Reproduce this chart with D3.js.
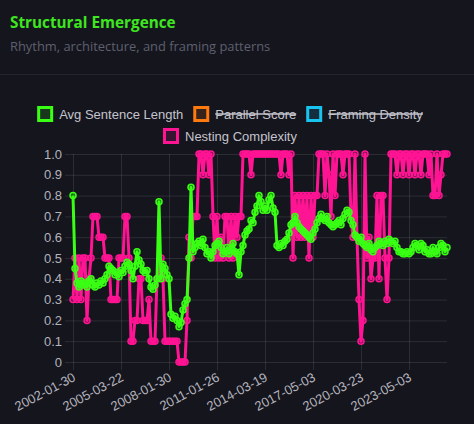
<!DOCTYPE html>
<html><head><meta charset="utf-8">
<script src="https://cdn.jsdelivr.net/npm/d3@7/dist/d3.min.js"></script>
<style>
html,body{margin:0;padding:0;background:#15151e;}
svg{display:block;}
</style></head>
<body>
<svg id="chart" width="474" height="424"></svg>
<script>
const title = "Structural Emergence";
const subtitle = "Rhythm, architecture, and framing patterns";
const tickLabels = ["2002-01-30","2005-03-22","2008-01-30","2011-01-26","2014-03-19","2017-05-03","2020-03-23","2023-05-03"];
const labelStep = 24;
const yTicks = [0,0.1,0.2,0.3,0.4,0.5,0.6,0.7,0.8,0.9,1.0];
const seriesNames = ["Avg Sentence Length","Parallel Score","Framing Density","Nesting Complexity"];
const seriesColors = ["#39ff14","#ff7a0e","#19c3f0","#ff1493"];
const seriesHidden = [false,true,true,false];
const avgSentenceLength = [
0.80,0.45,0.38,0.36,0.39,0.37,0.38,0.36,0.39,0.40,0.37,0.36,0.38,0.37,0.39,0.38,0.40,0.42,0.46,0.45,
0.44,0.42,0.43,0.41,0.44,0.43,0.46,0.48,0.47,0.44,0.40,0.46,0.53,0.49,0.47,0.44,0.43,0.44,0.40,0.36,
0.35,0.37,0.40,0.77,0.40,0.47,0.45,0.42,0.40,0.23,0.21,0.22,0.20,0.17,0.19,0.25,0.28,0.30,0.50,0.84,
0.53,0.55,0.57,0.58,0.56,0.59,0.55,0.52,0.53,0.50,0.53,0.56,0.57,0.58,0.55,0.52,0.53,0.55,0.52,0.54,
0.57,0.53,0.52,0.42,0.53,0.56,0.61,0.63,0.64,0.68,0.67,0.72,0.75,0.80,0.77,0.73,0.75,0.73,0.78,0.80,
0.74,0.72,0.56,0.55,0.57,0.56,0.58,0.59,0.62,0.66,0.67,0.70,0.67,0.65,0.64,0.63,0.62,0.61,0.60,0.59,
0.62,0.64,0.67,0.69,0.71,0.69,0.68,0.70,0.67,0.66,0.65,0.66,0.67,0.68,0.66,0.69,0.71,0.73,0.72,0.68,
0.66,0.61,0.60,0.58,0.60,0.57,0.56,0.55,0.57,0.54,0.53,0.55,0.56,0.58,0.57,0.56,0.58,0.57,0.59,0.58,
0.57,0.58,0.55,0.53,0.53,0.52,0.52,0.53,0.52,0.53,0.55,0.57,0.56,0.54,0.57,0.56,0.53,0.54,0.52,0.52,
0.55,0.53,0.52,0.55,0.57,0.56,0.53,0.55];
const nestingComplexity = [
0.3,0.5,0.3,0.5,0.3,0.5,0.5,0.2,0.4,0.5,0.7,0.7,0.7,0.6,0.6,0.6,0.5,0.5,0.5,0.3,
0.3,0.3,0.3,0.5,0.5,0.5,0.7,0.7,0.5,0.1,0.1,0.2,0.2,0.4,0.4,0.2,0.2,0.2,0.3,0.1,
0.1,0.1,0.4,0.4,0.5,0.4,0.1,0.1,0.1,0.1,0.1,0.1,0.1,0.0,0.0,0.0,0.0,0.2,0.6,0.5,
0.7,0.7,0.7,1.0,1.0,0.9,1.0,1.0,0.9,1.0,0.7,0.5,0.7,0.5,0.6,0.5,0.7,0.7,0.5,0.7,
0.5,0.7,0.6,0.7,0.7,1.0,1.0,1.0,1.0,0.9,1.0,1.0,1.0,1.0,1.0,1.0,1.0,1.0,1.0,1.0,
1.0,1.0,1.0,1.0,0.9,1.0,1.0,1.0,0.9,1.0,0.5,0.8,0.6,0.8,0.6,0.8,0.6,0.8,0.5,0.8,
0.6,0.8,0.8,1.0,1.0,1.0,0.8,1.0,0.9,0.7,1.0,0.8,1.0,1.0,1.0,0.9,1.0,1.0,1.0,0.7,
0.6,1.0,0.6,0.3,0.1,0.2,1.0,0.5,0.6,0.4,0.5,0.5,0.8,0.4,0.8,0.8,0.5,0.3,0.5,1.0,
1.0,1.0,0.9,1.0,1.0,0.9,1.0,1.0,0.9,1.0,1.0,0.9,1.0,1.0,0.9,1.0,1.0,1.0,0.9,1.0,
0.8,0.8,1.0,0.8,0.9,1.0,1.0,1.0];

const svg = d3.select("#chart");
const W = 474, H = 424;
const FONT = "'Liberation Sans', Arial, sans-serif";

// header
svg.append("text").attr("x",10).attr("y",28).text(title)
  .attr("fill","#3ee61f").attr("font-family","'Open Sans', 'Noto Sans', sans-serif")
  .attr("font-weight",700).attr("font-size",15.3);
svg.append("text").attr("x",10).attr("y",51).text(subtitle)
  .attr("fill","#5d606d").attr("font-family","'Open Sans', 'Noto Sans', sans-serif")
  .attr("font-size",12.9);
svg.append("line").attr("x1",0).attr("x2",W).attr("y1",74.5).attr("y2",74.5)
  .attr("stroke","#24252f").attr("stroke-width",1);

// scales
const n = avgSentenceLength.length;
const x = d3.scaleLinear().domain([0, n-1]).range([73, 447]);
const y = d3.scaleLinear().domain([0, 1]).range([362, 154]);

const grid = "rgba(255,255,255,0.1)";
// y axis
const yAxis = d3.axisLeft(y).tickValues(yTicks).tickSize(8).tickPadding(3)
  .tickFormat(d => d === 0 ? "0" : d3.format(".1f")(d));
const gy = svg.append("g").attr("transform","translate(73,0)").call(yAxis);
gy.select(".domain").remove();
gy.selectAll(".tick line").attr("stroke",grid).attr("x2",0).attr("x1",-8);
gy.selectAll(".tick").append("line").attr("x1",0).attr("x2",447-73).attr("stroke",grid);
gy.selectAll(".tick text").attr("fill","#b3b3bb").attr("font-size",13).attr("font-family",FONT);

// x axis
const tickIdx = tickLabels.map((_, i) => i * labelStep);
const xAxis = d3.axisBottom(x).tickValues(tickIdx).tickSize(8)
  .tickFormat((d, i) => tickLabels[i]);
const gx = svg.append("g").attr("transform","translate(0,362)").call(xAxis);
gx.select(".domain").remove();
gx.selectAll(".tick line").attr("stroke",grid);
gx.selectAll(".tick").append("line").attr("y1",0).attr("y2",154-362).attr("stroke",grid);
gx.selectAll(".tick text").attr("fill","#b3b3bb").attr("font-size",13).attr("font-family",FONT)
  .attr("text-anchor","end").attr("dy",null).attr("y",0)
  .attr("transform","translate(3,18) rotate(-28)");

// series
const datasets = [
  {name: seriesNames[3], color: seriesColors[3], values: nestingComplexity},
  {name: seriesNames[0], color: seriesColors[0], values: avgSentenceLength}
];
const line = d3.line().x((d,i)=>x(i)).y(d=>y(d));
datasets.forEach(ds => {
  const g = svg.append("g");
  g.append("path").datum(ds.values).attr("d", line).attr("fill","none")
    .attr("stroke", ds.color).attr("stroke-width",3).attr("stroke-linejoin","round");
  const c = d3.color(ds.color); c.opacity = 0.35;
  g.selectAll("circle").data(ds.values).join("circle")
    .attr("cx",(d,i)=>x(i)).attr("cy",d=>y(d)).attr("r",3)
    .attr("fill", c.formatRgb()).attr("stroke", ds.color).attr("stroke-width",1.5);
});

// legend
const legend = svg.append("g");
const rows = [[0,1,2],[3]];
const rowY = [114, 136];
const boxW = 13, gapText = 6, gapItem = 10, cx = 230;
rows.forEach((row, r) => {
  const rg = legend.append("g");
  let cur = 0;
  row.forEach(si => {
    const item = rg.append("g").attr("transform", `translate(${cur},0)`);
    const c = d3.color(seriesColors[si]); c.opacity = 0.15;
    item.append("rect").attr("x",1.5).attr("y",rowY[r]-6.5).attr("width",boxW).attr("height",boxW)
      .attr("fill", c.formatRgb()).attr("stroke", seriesColors[si]).attr("stroke-width",3);
    const t = item.append("text").attr("x", boxW + 3 + gapText).attr("y", rowY[r]+4.5)
      .text(seriesNames[si]).attr("fill","#c4c4cc").attr("font-size",13).attr("font-family",FONT);
    const tw = t.node().getComputedTextLength();
    if (seriesHidden[si]) {
      item.append("line").attr("x1", boxW+3+gapText).attr("x2", boxW+3+gapText+tw)
        .attr("y1", rowY[r]).attr("y2", rowY[r]).attr("stroke","#c4c4cc").attr("stroke-width",1.5);
    }
    cur += boxW + 3 + gapText + tw + gapItem;
  });
  const total = cur - gapItem;
  rg.attr("transform", `translate(${cx - total/2},0)`);
});
</script>
</body></html>
